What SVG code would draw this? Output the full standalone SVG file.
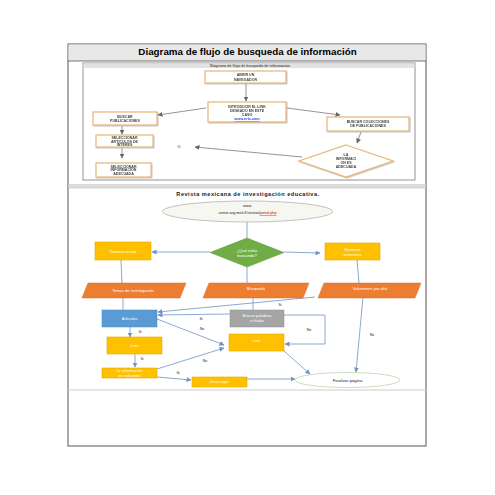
<svg xmlns="http://www.w3.org/2000/svg" width="495" height="495" viewBox="0 0 495 495">
<style>
text{font-family:"Liberation Sans",Arial,sans-serif}
.tb{fill:#fff;stroke:#eab67a;stroke-width:1.2}
.tt{font-size:3.6px;fill:#444;text-anchor:middle;font-weight:bold}
.ta{stroke:#666;stroke-width:0.7;fill:none;marker-end:url(#ag)}
.c{stroke:#6f93c6;stroke-width:0.8;fill:none}
.ca{stroke:#6f93c6;stroke-width:0.8;fill:none;marker-end:url(#ab)}
.y{fill:#ffc000;stroke:#e5ac00;stroke-width:0.6}
.o{fill:#ed7d31;stroke:#d86d22;stroke-width:0.5}
.w{font-size:4px;fill:#fff;text-anchor:middle}
.lb{font-size:3.5px;fill:#222;text-anchor:middle}
</style>
<defs>
<marker id="ag" markerWidth="5" markerHeight="5" refX="4.5" refY="2.5" orient="auto" markerUnits="userSpaceOnUse"><path d="M0,0L5,2.5L0,5z" fill="#666"/></marker>
<marker id="ab" markerWidth="5" markerHeight="5" refX="4.5" refY="2.5" orient="auto" markerUnits="userSpaceOnUse"><path d="M0,0L5,2.5L0,5z" fill="#6f93c6"/></marker>
<filter id="sh" x="-10%" y="-20%" width="130%" height="150%"><feDropShadow dx="0.8" dy="0.8" stdDeviation="0.6" flood-color="#999" flood-opacity="0.6"/></filter>
</defs>
<rect width="495" height="495" fill="#fff"/>
<g id="frame">
<rect x="68" y="44" width="358" height="402" fill="#fff" stroke="#555" stroke-width="1"/>
<rect x="68.5" y="44.5" width="357" height="16.5" fill="#e8e8e8" stroke="none"/>
<line x1="68" y1="61" x2="426" y2="61" stroke="#555" stroke-width="0.8"/>
<line x1="68" y1="390" x2="426" y2="390" stroke="#ccc" stroke-width="1"/>
<text x="247.5" y="55.3" font-size="9.8" font-weight="bold" text-anchor="middle" fill="#000">Diagrama de flujo de busqueda de información</text>
</g>
<g id="image1">
<rect x="83" y="63" width="332" height="117" fill="#fff" stroke="#777" stroke-width="0.8"/>
<rect x="83.4" y="63.4" width="331.2" height="4.6" fill="#e2e2e2"/>
<text x="250" y="66.9" font-size="3.6" font-weight="bold" text-anchor="middle" fill="#555">Diagrama de flujo de busqueda de informacion</text>
</g>
<g id="connectors-top">
<path class="ta" d="M246,83L246,101"/>
<path class="ta" d="M206,108L158,115"/>
<path class="ta" d="M287,108L340,115"/>
<path class="ta" d="M122,126L122,134"/>
<path class="ta" d="M122,148L122,158"/>
<path class="ta" d="M361,132L357,143"/>
<path class="ta" d="M302,157L195,147"/>
<text x="179" y="148" font-size="3.5" fill="#555" text-anchor="middle">SI</text>
</g>
<g id="t-abrir" filter="url(#sh)"><rect class="tb" x="205" y="71" width="81" height="12"/>
<text class="tt" x="245.5" y="76.3">ABRIR UN</text><text class="tt" x="245.5" y="80.5">NAVEGADOR</text></g>
<g id="t-introducir" filter="url(#sh)"><rect class="tb" x="208" y="102" width="78" height="20"/>
<text class="tt" x="247" y="107.5">INTRODUCIR EL LINK</text><text class="tt" x="247" y="111.5">DESEADO EN ESTE</text><text class="tt" x="247" y="115.5">CASO</text>
<text x="247" y="120" font-size="3.8" font-weight="bold" fill="#2a4ec8" text-anchor="middle" text-decoration="underline">www.eric.com</text></g>
<g id="t-buscarpub" filter="url(#sh)"><rect class="tb" x="93" y="112" width="64" height="13"/>
<text class="tt" x="125" y="117.5">BUSCAR</text><text class="tt" x="125" y="121.5">PUBLICACIONES</text></g>
<g id="t-selart" filter="url(#sh)"><rect class="tb" x="96" y="135" width="57" height="12"/>
<text class="tt" x="124.5" y="139">SELECCIONAR</text><text class="tt" x="124.5" y="142.5">ARTICULOS DE</text><text class="tt" x="124.5" y="146">INTERES</text></g>
<g id="t-selinf" filter="url(#sh)"><rect class="tb" x="96" y="163" width="55" height="14"/>
<text class="tt" x="123.5" y="167.5">SELECCIONAR</text><text class="tt" x="123.5" y="171.3">INFORMACION</text><text class="tt" x="123.5" y="175">ADECUADA</text></g>
<g id="t-buscarcol" filter="url(#sh)"><rect class="tb" x="327" y="117" width="82" height="14"/>
<text class="tt" x="368" y="123">BUSCAR COLECCIONES</text><text class="tt" x="368" y="127">DE PUBLICACIONES</text></g>
<g id="t-diamond" filter="url(#sh)"><path class="tb" d="M346,145L393,161L346,177L299,161z"/>
<text class="tt" x="346" y="156">LA</text><text class="tt" x="346" y="160">INFORMACI</text><text class="tt" x="346" y="164">ON ES</text><text class="tt" x="346" y="168">ADECUADA</text></g>
<g id="image2">
<rect x="68.5" y="184" width="357" height="4" fill="#dcdcdc"/>
<line x1="68" y1="188" x2="426" y2="188" stroke="#bbb" stroke-width="0.5"/>
<text x="248" y="196" font-size="5.6" font-weight="bold" letter-spacing="0.5" text-anchor="middle" fill="#222">Revista mexicana de investigación educativa.</text>
</g>
<g id="connectors-bottom">
<path class="c" d="M247,222L247,238"/>
<path class="ca" d="M210,252L152,252"/>
<path class="ca" d="M284,252L320,253"/>
<path class="c" d="M121,260L122,283"/>
<path class="c" d="M247,267L247,283"/>
<path class="c" d="M357,260L359,283"/>
<path class="c" d="M123,298L123,310"/>
<path class="c" d="M253,298L253,310"/>
<path class="ca" d="M230,314L158,315"/>
<text class="lb" x="201" y="320">Si</text>
<path class="ca" d="M315,297L158,312"/>
<text class="lb" x="280" y="306">Si</text>
<path class="ca" d="M284,315L325,315L325,344L285,344"/>
<text class="lb" x="309" y="331">No</text>
<path class="ca" d="M157,319L224,345"/>
<text class="lb" x="202" y="330">No</text>
<path class="ca" d="M130,327L130,337"/>
<text class="lb" x="140" y="333">Si</text>
<path class="ca" d="M135,354L135,367"/>
<text class="lb" x="142" y="360">Si</text>
<path class="ca" d="M157,369L224,348"/>
<text class="lb" x="205" y="362">No</text>
<path class="ca" d="M157,377L191,380"/>
<text class="lb" x="178" y="374">Si</text>
<path class="ca" d="M247,379L295,379"/>
<path class="ca" d="M284,351L310,374"/>
<path class="ca" d="M363,297L356,372"/>
<text class="lb" x="372" y="336">No</text>
</g>
<g id="b-url"><ellipse cx="247.5" cy="211.5" rx="85" ry="10.5" fill="#f7f7f2" stroke="#a9a9a9" stroke-width="0.7"/>
<text x="247.5" y="207" font-size="3.8" text-anchor="middle" fill="#222">www.</text>
<text x="247.5" y="214" font-size="3.8" text-anchor="middle" fill="#222">comie.org.mx/v1/revista/<tspan fill="#c00000" text-decoration="underline">portal.php</tspan></text></g>
<g id="b-question"><path d="M247,238L284,252.5L247,267L210,252.5z" fill="#70ad47" stroke="#5b9a38" stroke-width="0.5"/>
<text class="w" x="247" y="251.5">¿Qué estás</text><text class="w" x="247" y="256.5">buscando?</text></g>
<g id="b-actual"><rect class="y" x="95" y="242" width="56" height="18"/><text class="w" x="123" y="252.5">Numero actual</text></g>
<g id="b-anteriores"><rect class="y" x="325" y="243" width="55" height="17"/><text class="w" x="352.5" y="250.5">Numeros</text><text class="w" x="352.5" y="255.5">anteriores</text></g>
<g id="b-temas"><path class="o" d="M88,283L186,283L180,298L82,298z"/><text class="w" x="133" y="292">Temas de investigación</text></g>
<g id="b-busqueda"><path class="o" d="M209,283L309,283L303,298L203,298z"/><text class="w" x="256" y="289.5">Búsqueda</text></g>
<g id="b-volumenes"><path class="o" d="M324,283L421,283L415,298L318,298z"/><text class="w" x="370" y="289.5">Volumenes por año</text></g>
<g id="b-pdf"><rect x="102" y="310" width="55" height="17" fill="#5b9bd5" stroke="#4a86c0" stroke-width="0.5"/><text class="w" x="129.5" y="319.5">Artículos</text></g>
<g id="b-palabras"><rect x="230" y="310" width="54" height="17" fill="#a5a5a5" stroke="#8f8f8f" stroke-width="0.5"/><text class="w" x="257" y="316.5">Buscar palabras</text><text class="w" x="257" y="321.5">o títulos</text></g>
<g id="b-leer1"><rect class="y" x="107" y="337" width="55" height="17"/><text class="w" x="134.5" y="346.5">Leer</text></g>
<g id="b-leer2"><rect class="y" x="229" y="334" width="55" height="17"/><text class="w" x="256.5" y="342">Leer</text></g>
<g id="b-suficiente"><rect class="y" x="102" y="368" width="55" height="10"/><text class="w" x="129.5" y="372">La información</text><text class="w" x="129.5" y="376.5">es suficiente</text></g>
<g id="b-descargar"><rect class="y" x="192" y="377" width="55" height="10"/><text class="w" x="219.5" y="383.3">Descargar</text></g>
<g id="b-final"><ellipse cx="347.5" cy="380" rx="52.5" ry="7.5" fill="#fff" stroke="#a8c890" stroke-width="0.6"/><text x="347.5" y="381.5" font-size="4.2" text-anchor="middle" fill="#222">Finalizar página</text></g>
</svg>
